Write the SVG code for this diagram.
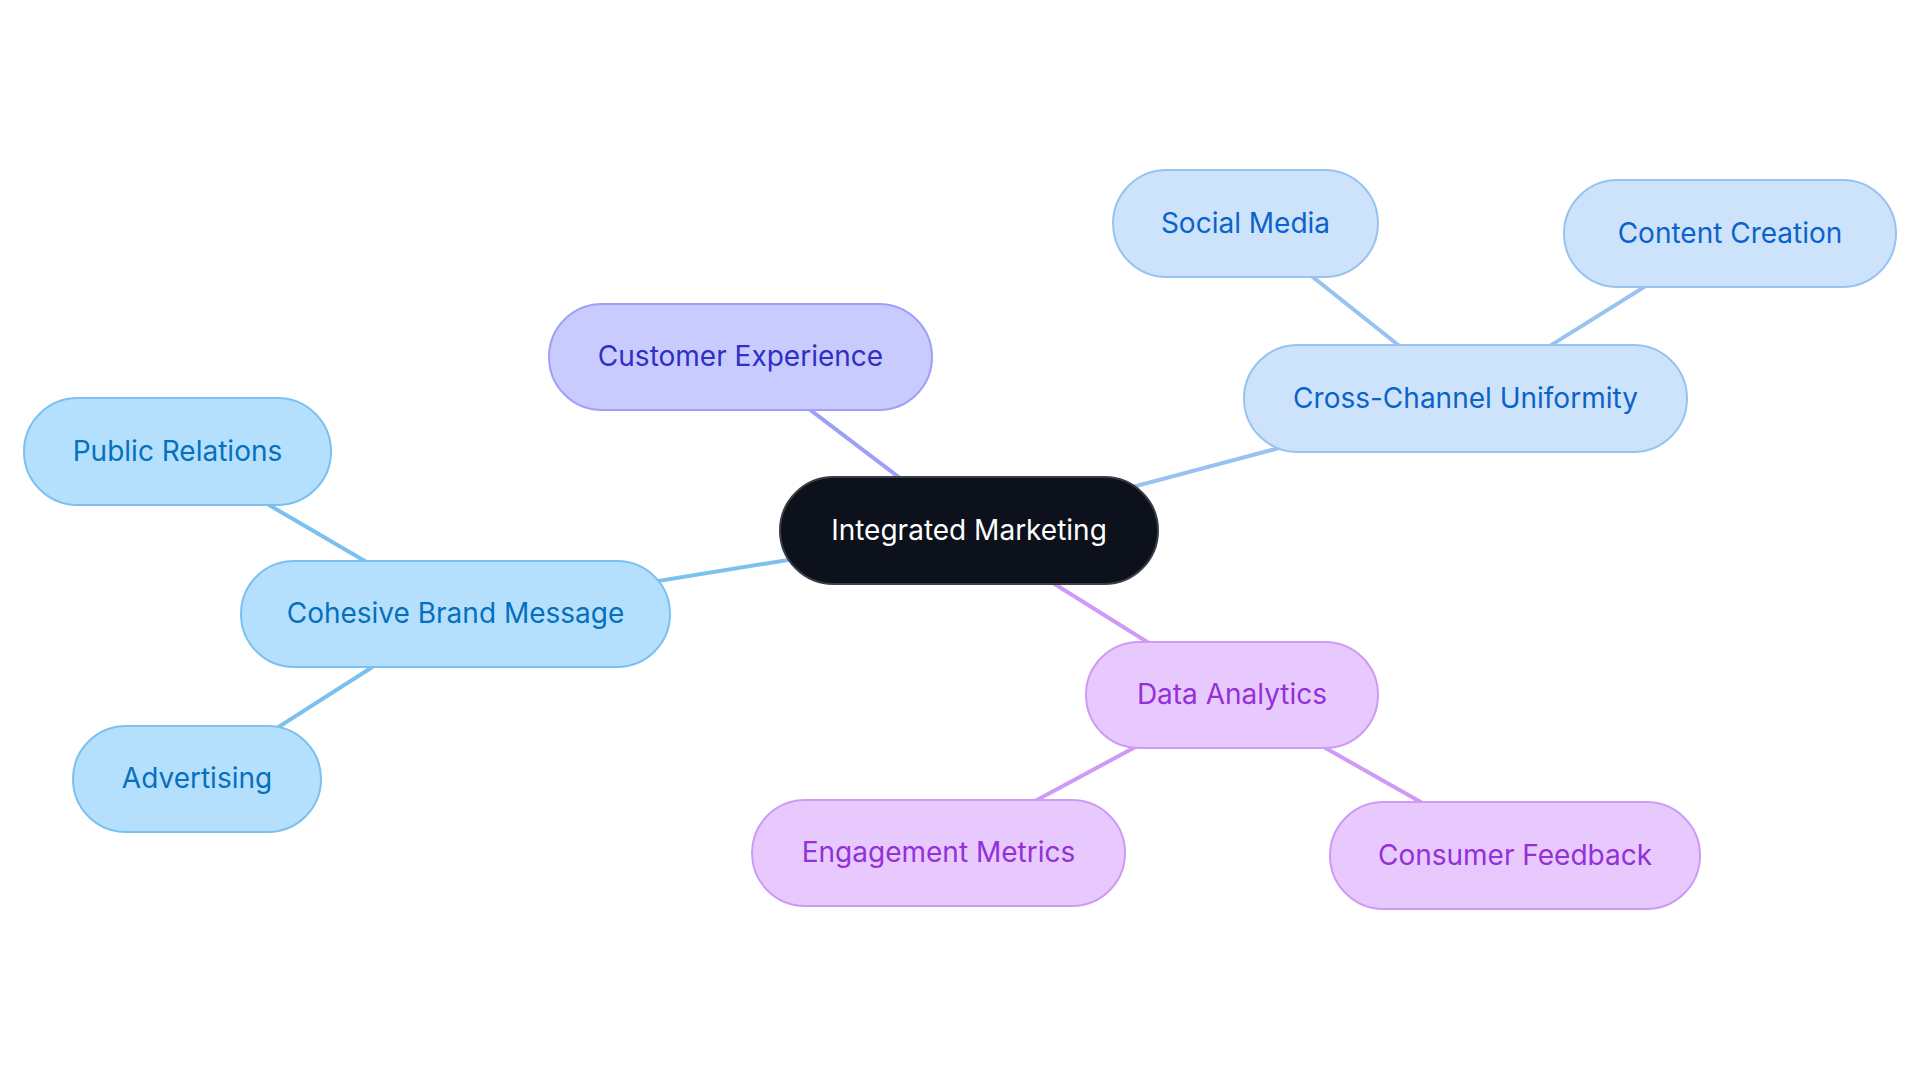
<svg xmlns="http://www.w3.org/2000/svg" width="1920" height="1083" viewBox="0 0 1920 1083">
<style>
.e{stroke-width:4;stroke-linecap:round;fill:none}
.n rect{stroke-width:2}
.n text{font-family:Inter,"Noto Sans",sans-serif;font-size:28px;text-anchor:middle}
.root rect{fill:#0c111b;stroke:#3a3f47}
.root text{fill:#ffffff}
.ce rect{fill:#c9cbff;stroke:#9da0f5}
.ce text{fill:#2f2fc4}
.cc rect{fill:#cde3fb;stroke:#98c3f0}
.cc text{fill:#0b63c9}
.cb rect{fill:#b5e0fd;stroke:#7cc0f0}
.cb text{fill:#0570bd}
.da rect{fill:#e8c9fd;stroke:#cf9af5}
.da text{fill:#9330d8}
</style>
<rect width="1920" height="1083" fill="#ffffff"/>
<g id="connectors">
<line class="e" x1="969" y1="530.5" x2="740.5" y2="357" stroke="#9da0f5"/>
<line class="e" x1="969" y1="530.5" x2="1465.5" y2="398.5" stroke="#98c3f0"/>
<line class="e" x1="1465.5" y1="398.5" x2="1245.5" y2="223.5" stroke="#98c3f0"/>
<line class="e" x1="1465.5" y1="398.5" x2="1730" y2="233.5" stroke="#98c3f0"/>
<line class="e" x1="969" y1="530.5" x2="455.5" y2="614" stroke="#7cc0f0"/>
<line class="e" x1="455.5" y1="614" x2="177.5" y2="451.5" stroke="#7cc0f0"/>
<line class="e" x1="455.5" y1="614" x2="197" y2="779" stroke="#7cc0f0"/>
<line class="e" x1="969" y1="530.5" x2="1232" y2="695" stroke="#cf9af5"/>
<line class="e" x1="1232" y1="695" x2="938.5" y2="853" stroke="#cf9af5"/>
<line class="e" x1="1232" y1="695" x2="1515" y2="855.5" stroke="#cf9af5"/>
</g>
<g id="n-root" class="n root"><rect x="780" y="477" width="378" height="107" rx="53.5"/><text x="969" y="540">Integrated Marketing</text></g>
<g id="n-customer" class="n ce"><rect x="549" y="304" width="383" height="106" rx="53"/><text x="740.5" y="366">Customer Experience</text></g>
<g id="n-cross" class="n cc"><rect x="1244" y="345" width="443" height="107" rx="53.5"/><text x="1465.5" y="408">Cross-Channel Uniformity</text></g>
<g id="n-social" class="n cc"><rect x="1113" y="170" width="265" height="107" rx="53.5"/><text x="1245.5" y="233">Social Media</text></g>
<g id="n-content" class="n cc"><rect x="1564" y="180" width="332" height="107" rx="53.5"/><text x="1730" y="243">Content Creation</text></g>
<g id="n-cohesive" class="n cb"><rect x="241" y="561" width="429" height="106" rx="53"/><text x="455.5" y="623">Cohesive Brand Message</text></g>
<g id="n-public" class="n cb"><rect x="24" y="398" width="307" height="107" rx="53.5"/><text x="177.5" y="461">Public Relations</text></g>
<g id="n-advertising" class="n cb"><rect x="73" y="726" width="248" height="106" rx="53"/><text x="197" y="788">Advertising</text></g>
<g id="n-data" class="n da"><rect x="1086" y="642" width="292" height="106" rx="53"/><text x="1232" y="704">Data Analytics</text></g>
<g id="n-engagement" class="n da"><rect x="752" y="800" width="373" height="106" rx="53"/><text x="938.5" y="862">Engagement Metrics</text></g>
<g id="n-consumer" class="n da"><rect x="1330" y="802" width="370" height="107" rx="53.5"/><text x="1515" y="865">Consumer Feedback</text></g>
</svg>
